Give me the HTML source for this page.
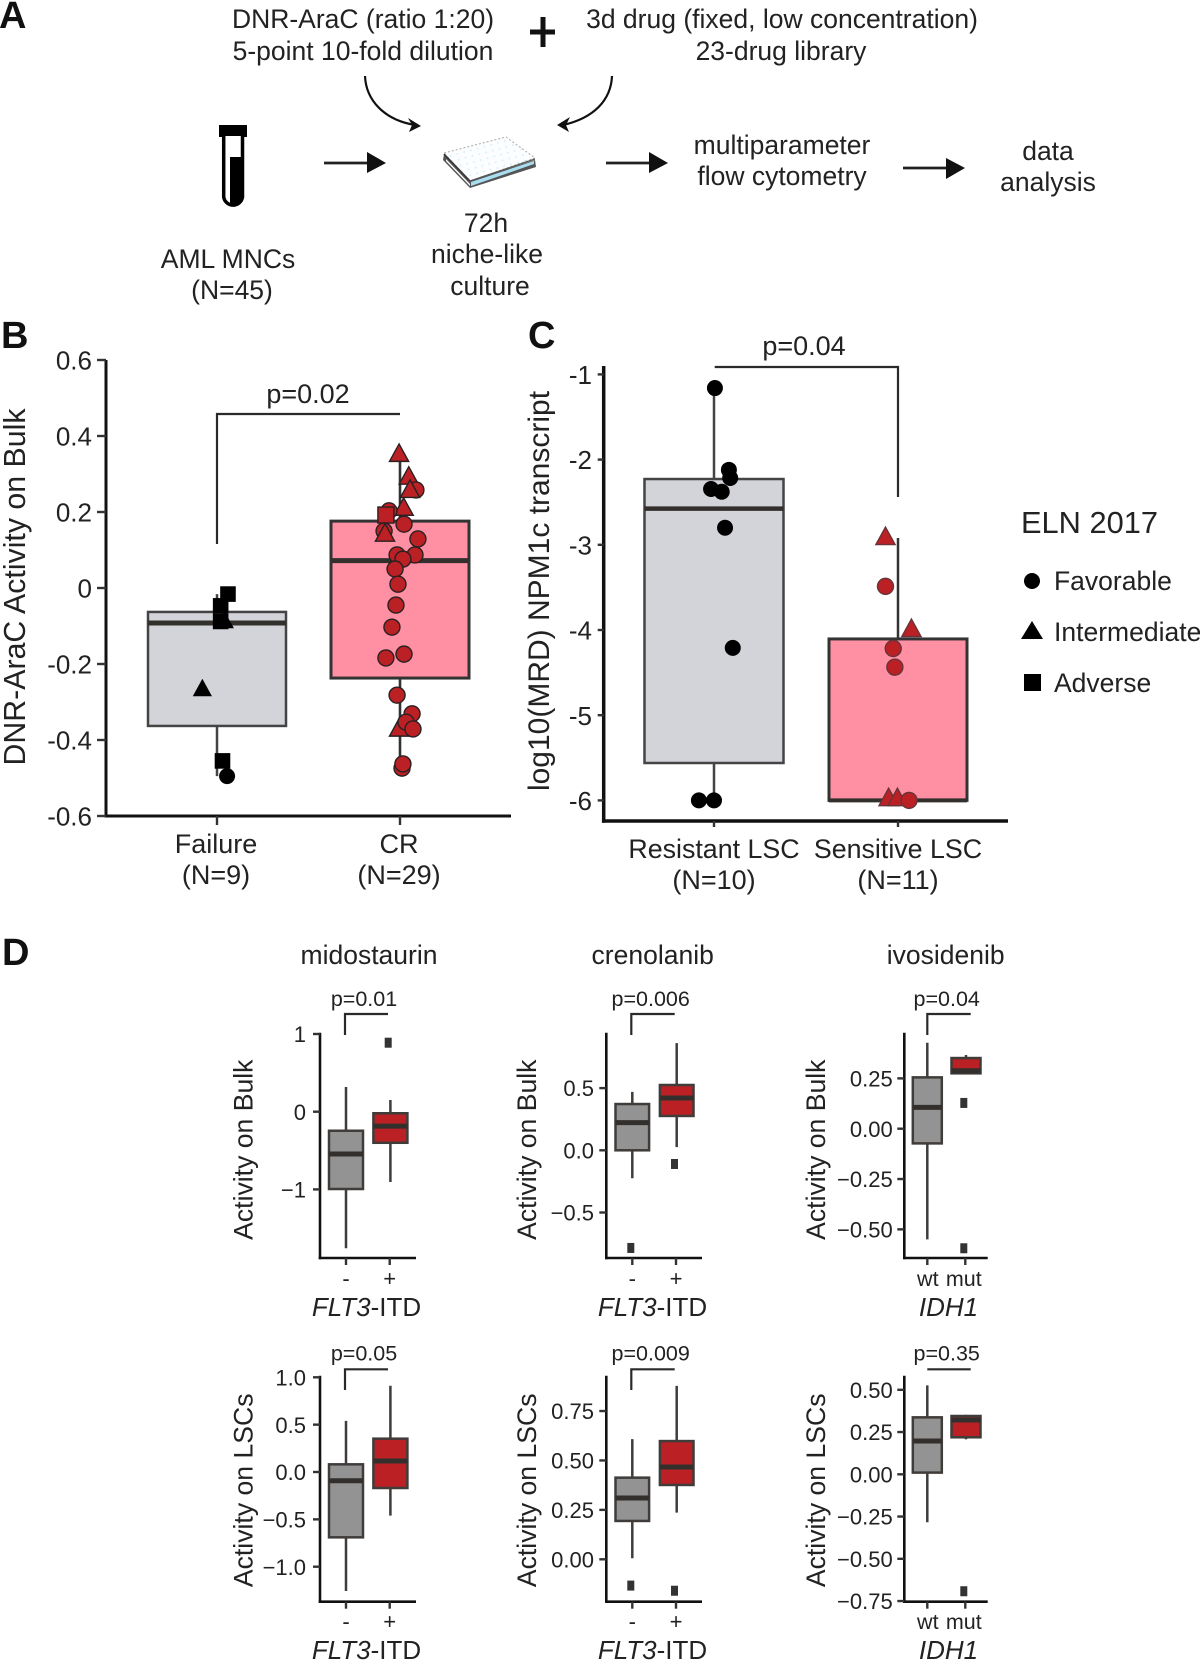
<!DOCTYPE html>
<html lang="en">
<head>
<meta charset="utf-8">
<title>DNR-AraC combination screening figure</title>
<style>
html,body{margin:0;padding:0;background:#fff;}
svg{display:block;font-family:"Liberation Sans",Arial,sans-serif;fill:#222;}
text{fill:#222;}
.panel{font-weight:bold;font-size:38px;fill:#111;}
.t26{font-size:26.5px;}
.t30{font-size:30.8px;}
.c{text-anchor:middle;}
</style>
</head>
<body>
<svg id="figure" xmlns="http://www.w3.org/2000/svg" width="1200" height="1661" viewBox="0 0 1200 1661">
<defs>
<pattern id="wells" width="7" height="6" patternUnits="userSpaceOnUse" patternTransform="rotate(-15)"><circle cx="3" cy="3" r="0.9" fill="#d3ecf6"/></pattern>
</defs>
<rect width="1200" height="1661" fill="#fff"/>

<g id="panel-a">
  <text class="panel" x="-1" y="28">A</text>
  <text class="t26 c" x="363" y="28">DNR-AraC (ratio 1:20)</text>
  <text class="t26 c" x="363" y="60">5-point 10-fold dilution</text>
  <g stroke="#111" stroke-width="5"><line x1="530" y1="32" x2="555" y2="32"/><line x1="543" y1="17" x2="543" y2="47"/></g>
  <text class="t26 c" x="782" y="28">3d drug (fixed, low concentration)</text>
  <text class="t26 c" x="781" y="60">23-drug library</text>

  <g>
    <path d="M365 76 C366 100 384 120 415 125" fill="none" stroke="#111" stroke-width="2.200"/>
    <path d="M421 126 L408 118 L412 125 L409 132 Z" fill="#111"/>
  </g>
  <g>
    <path d="M612 76 C611 100 594 118 563 125" fill="none" stroke="#111" stroke-width="2.200"/>
    <path d="M557 125 L570 117 L566 125 L569 132 Z" fill="#111"/>
  </g>

  <g>
    <rect x="219" y="125" width="28" height="12" fill="#000"/>
    <path d="M222 136 V197 A11 11 0 0 0 244 197 V136 Z" fill="#fff" stroke="none"/>
    <path d="M223.700 136 V197 A9.500 9.500 0 0 0 242.500 197 V136" fill="none" stroke="#000" stroke-width="3.500"/>
    <path d="M230 157 H242 V197 A8 8 0 0 1 230 203 Z" fill="#000"/>
  </g>

  <g><line x1="324" y1="163" x2="370" y2="163" stroke="#222" stroke-width="2.800"/><polygon points="367,152 386,163 367,173" fill="#111"/></g>
  <g><line x1="606" y1="163" x2="652" y2="163" stroke="#222" stroke-width="2.800"/><polygon points="649,152 668,163 649,173" fill="#111"/></g>
  <g><line x1="903" y1="168" x2="949" y2="168" stroke="#222" stroke-width="2.800"/><polygon points="946,158 965,168 946,179" fill="#111"/></g>

  <g>
    <polygon points="443,160 470,188 536,167 535,160 470,181 444,154" fill="#555"/>
    <polygon points="446,159 470,184 470,186 446,161" fill="#fff"/>
    <polygon points="471,182 534,161 534,164 471,186" fill="#a9ddf0"/>
    <polygon points="444,153 506,137 535,158 470,181" fill="#fbfdff"/>
    <polygon points="444,153 506,137 535,158 470,181" fill="url(#wells)" stroke="#aaa" stroke-width="1" stroke-dasharray="2 2"/>
    <line x1="444" y1="154" x2="470" y2="181" stroke="#333" stroke-width="1.500"/>
    <line x1="470" y1="181" x2="535" y2="159" stroke="#555" stroke-width="1.300"/>
  </g>

  <text class="t26 c" x="228" y="268">AML MNCs</text>
  <text class="t26 c" x="232" y="299">(N=45)</text>
  <text class="t26 c" x="486" y="232">72h</text>
  <text class="t26 c" x="487" y="263">niche-like</text>
  <text class="t26 c" x="490" y="295">culture</text>
  <text class="t26 c" x="782" y="154">multiparameter</text>
  <text class="t26 c" x="782" y="185">flow cytometry</text>
  <text class="t26 c" x="1048" y="160">data</text>
  <text class="t26 c" x="1048" y="191">analysis</text>
</g>

<text class="panel" x="1" y="348">B</text>
<text class="panel" x="528" y="348">C</text>
<text class="panel" x="2" y="965">D</text>

<g id="panel-b"></g>
<g id="panel-c"></g>

<g id="legend">
  <text class="t30" x="1021" y="533">ELN 2017</text>
  <circle cx="1032" cy="581" r="8" fill="#000"/>
  <text class="t26" x="1054" y="590">Favorable</text>
  <polygon points="1032,621 1043,639 1021,639" fill="#000"/>
  <text class="t26" x="1054" y="641">Intermediate</text>
  <rect x="1024" y="674" width="17" height="17" fill="#000"/>
  <text class="t26" x="1054" y="692">Adverse</text>
</g>

<g id="panel-d"></g>
</svg>

<script>
/* ---------- Panel B data ---------- */
const bCategories = ['Failure', 'CR'];
const bCounts = ['(N=9)', '(N=29)'];
const bTicks = [0.6, 0.4, 0.2, 0, -0.2, -0.4, -0.6];
const bTickLabels = ['0.6', '0.4', '0.2', '0', '-0.2', '-0.4', '-0.6'];
const bFailureBox = [-0.495, -0.363, -0.092, -0.063, -0.016];
const bCrBox = [-0.48, -0.237, 0.072, 0.176, 0.355];
const bFailureValues = [-0.016, -0.047, -0.084, -0.088, -0.263, -0.455, -0.495];
const bFailureJitter = [0.06, 0.02, 0.04, 0.02, -0.08, 0.03, 0.055];
const bFailureShapes = ['square', 'square', 'triangle', 'square', 'triangle', 'square', 'circle'];
const bCrValues = [0.355, 0.295, 0.258, 0.26, 0.213, 0.203, 0.192, 0.15, 0.145, 0.168, 0.129, 0.087, 0.087, 0.076, 0.05, 0.01, -0.045, -0.103, -0.184, -0.174, -0.282, -0.331, -0.368, -0.353, -0.371, -0.474, -0.463];
const bCrJitter = [-0.005, 0.048, 0.087, 0.055, 0.02, -0.06, -0.077, -0.087, -0.082, 0.022, 0.098, 0.082, -0.016, 0.016, -0.027, -0.011, -0.022, -0.044, -0.077, 0.022, -0.016, 0.066, -0.005, 0.033, 0.071, 0.011, 0.016];
const bCrShapes = ['triangle', 'triangle', 'circle', 'triangle', 'triangle', 'circle', 'square', 'circle', 'triangle', 'circle', 'circle', 'circle', 'circle', 'circle', 'circle', 'circle', 'circle', 'circle', 'circle', 'circle', 'circle', 'circle', 'triangle', 'circle', 'circle', 'circle', 'circle'];

/* ---------- Panel C data ---------- */
const cCategories = ['Resistant LSC', 'Sensitive LSC'];
const cCounts = ['(N=10)', '(N=11)'];
const cTicks = [-1, -2, -3, -4, -5, -6];
const cTickLabels = ['-1', '-2', '-3', '-4', '-5', '-6'];
const cResistantBox = [-6, -5.561, -2.576, -2.228, -1.16];
const cSensitiveBox = [-6, -6, -6, -4.105, -2.92];
const cResistantValues = [-1.16, -2.12, -2.216, -2.345, -2.377, -2.8, -4.21, -6, -6];
const cResistantJitter = [0.005, 0.081, 0.088, -0.016, 0.042, 0.06, 0.102, -0.082, 0];
const cSensitiveValues = [-2.9, -3.488, -3.98, -4.217, -4.436, -5.965, -5.965, -6];
const cSensitiveJitter = [-0.068, -0.068, 0.073, -0.026, -0.017, -0.051, -0.003, 0.06];
const cSensitiveShapes = ['triangle', 'circle', 'triangle', 'circle', 'circle', 'triangle', 'triangle', 'circle'];

/* ---------- Panel D data: box = [low whisker, q1, median, q3, high whisker] ---------- */
const flt3Categories = ['-', '+'];
const idh1Categories = ['wt', 'mut'];

const midoBulkTicks = [1, 0, -1];
const midoBulkTickLabels = ['1', '0', '\u22121'];
const midoBulkLowBox = [-1.757, -0.995, -0.545, -0.245, 0.318];
const midoBulkHighBox = [-0.905, -0.4, -0.185, -0.02, 0.15];
const midoBulkLowOutliers = [];
const midoBulkHighOutliers = [0.888];

const crenoBulkTicks = [0.5, 0, -0.5];
const crenoBulkTickLabels = ['0.5', '0.0', '\u22120.5'];
const crenoBulkLowBox = [-0.225, 0, 0.222, 0.372, 0.47];
const crenoBulkHighBox = [0.026, 0.276, 0.42, 0.525, 0.862];
const crenoBulkLowOutliers = [-0.785];
const crenoBulkHighOutliers = [-0.11];

const ivoBulkTicks = [0.25, 0, -0.25, -0.5];
const ivoBulkTickLabels = ['0.25', '0.00', '\u22120.25', '\u22120.50'];
const ivoBulkLowBox = [-0.55, -0.073, 0.106, 0.255, 0.427];
const ivoBulkHighBox = [0.275, 0.275, 0.288, 0.351, 0.366];
const ivoBulkLowOutliers = [];
const ivoBulkHighOutliers = [0.128, -0.594];

const midoLscTicks = [1, 0.5, 0, -0.5, -1];
const midoLscTickLabels = ['1.0', '0.5', '0.0', '\u22120.5', '\u22121.0'];
const midoLscLowBox = [-1.257, -0.69, -0.092, 0.081, 0.54];
const midoLscHighBox = [-0.461, -0.169, 0.116, 0.352, 0.911];
const midoLscLowOutliers = [];
const midoLscHighOutliers = [];

const crenoLscTicks = [0.75, 0.5, 0.25, 0];
const crenoLscTickLabels = ['0.75', '0.50', '0.25', '0.00'];
const crenoLscLowBox = [0.005, 0.194, 0.31, 0.413, 0.608];
const crenoLscHighBox = [0.236, 0.376, 0.467, 0.598, 0.877];
const crenoLscLowOutliers = [-0.133];
const crenoLscHighOutliers = [-0.159];

const ivoLscTicks = [0.5, 0.25, 0, -0.25, -0.5, -0.75];
const ivoLscTickLabels = ['0.50', '0.25', '0.00', '\u22120.25', '\u22120.50', '\u22120.75'];
const ivoLscLowBox = [-0.284, 0.01, 0.197, 0.337, 0.526];
const ivoLscHighBox = [0.207, 0.219, 0.321, 0.345, 0.352];
const ivoLscLowOutliers = [];
const ivoLscHighOutliers = [-0.692];

/* ---------- helpers ---------- */
const NS = 'http://www.w3.org/2000/svg';
function svgNode(parent, tag, attrs, text) {
  const n = document.createElementNS(NS, tag);
  for (const k in attrs) n.setAttribute(k, attrs[k]);
  if (text !== undefined) n.textContent = text;
  parent.appendChild(n);
  return n;
}
function linearY(zeroPx, pxPerUnit) { return v => zeroPx - v * pxPerUnit; }
function linearX(firstPx, stepPx) { return c => firstPx + c * stepPx; }

function drawMark(parent, shape, cx, cy, fill, stroke, size, name) {
  let m;
  if (shape === 'circle') {
    m = svgNode(parent, 'circle', {cx: cx, cy: cy, r: size});
  } else if (shape === 'square') {
    m = svgNode(parent, 'rect', {x: cx - size, y: cy - size, width: size * 2, height: size * 2});
  } else {
    const h = size * 1.15, w = size * 1.2;
    m = svgNode(parent, 'polygon', {points: cx + ',' + (cy - h) + ' ' + (cx + w) + ',' + (cy + h * 0.9) + ' ' + (cx - w) + ',' + (cy + h * 0.9)});
  }
  m.setAttribute('fill', fill);
  m.setAttribute('stroke', stroke);
  m.setAttribute('stroke-width', stroke === 'none' ? 0 : 1.4);
  
  
  return m;
}

function drawBox(parent, box, cx, halfW, y, st, name) {
  const w = svgNode(parent, 'line', {x1: cx, x2: cx, y1: y(box[4]), y2: y(box[0]), stroke: st.stroke, 'stroke-width': st.whisker});
  
  
  const r = svgNode(parent, 'rect', {x: cx - halfW, y: y(box[3]), width: halfW * 2, height: y(box[1]) - y(box[3]), fill: st.fill, stroke: st.stroke, 'stroke-width': st.border});
  
  
  const m = svgNode(parent, 'line', {x1: cx - halfW, x2: cx + halfW, y1: y(box[2]), y2: y(box[2]), stroke: '#332f2d', 'stroke-width': st.median});
  
  
}

function drawAxes(parent, a) {
  const yAxis = svgNode(parent, 'line', {x1: a.axisX, x2: a.axisX, y1: a.top, y2: a.bottom + a.width / 2, stroke: '#111', 'stroke-width': a.width});
  
  
  const xAxis = svgNode(parent, 'line', {x1: a.axisX - a.width / 2, x2: a.right, y1: a.bottom, y2: a.bottom, stroke: '#111', 'stroke-width': a.width});
  
  
  a.ticks.forEach((t, i) => {
    const py = a.y(t);
    const mark = svgNode(parent, 'line', {x1: a.axisX - a.tickLen, x2: a.axisX, y1: py, y2: py, stroke: '#333', 'stroke-width': 2.400});
    
    
    const label = svgNode(parent, 'text', {x: a.labelX, y: py + a.fontSize * 0.37, 'text-anchor': 'end', 'font-size': a.fontSize}, a.tickLabels[i]);
    
    
  });
  a.xPositions.forEach(px => {
    const mark = svgNode(parent, 'line', {x1: px, x2: px, y1: a.bottom, y2: a.bottom + a.tickLen, stroke: '#333', 'stroke-width': 2.400});
    
    
  });
}

function drawRotated(parent, txt, x, cy, size, name) {
  const t = svgNode(parent, 'text', {transform: 'translate(' + x + ',' + cy + ') rotate(-90)', 'text-anchor': 'middle', 'font-size': size}, txt);
  
  
}

function drawBracket(parent, d, name) {
  const b = svgNode(parent, 'path', {d: d, fill: 'none', stroke: '#2a2a2a', 'stroke-width': 2.200});
  
  
}

function drawLabel(parent, txt, x, y, size, name) {
  const t = svgNode(parent, 'text', {x: x, y: y, 'text-anchor': 'middle', 'font-size': size}, txt);
  
  
  return t;
}

/* ---------- Panel B ---------- */
(function () {
  const g = document.getElementById('panel-b');
  const y = linearY(588, 380);
  const x = linearX(217, 183);
  drawRotated(g, 'DNR-AraC Activity on Bulk', 25, 587, 30.3, 'y-axis-title');
  drawAxes(g, {axisX: 106, right: 511, top: 360, bottom: 816, width: 3, tickLen: 9, labelX: 92, fontSize: 26, y: y, ticks: bTicks, tickLabels: bTickLabels, xPositions: [x(0), x(1)]});
  drawBox(g, bFailureBox, x(0), 69, y, {fill: '#d3d4d9', stroke: '#444', whisker: 2.500, border: 2.500, median: 5}, 'failure');
  drawBox(g, bCrBox, x(1), 69, y, {fill: '#ff8fa3', stroke: '#333', whisker: 2.600, border: 3, median: 5}, 'cr');
  bFailureValues.forEach((v, i) => {
    const s = bFailureShapes[i];
    drawMark(g, s, x(0 + bFailureJitter[i]), y(v), '#000', 'none', s === 'square' ? 7.800 : 8, 'failure-point-' + s);
  });
  bCrValues.forEach((v, i) => {
    const s = bCrShapes[i];
    drawMark(g, s, x(1 + bCrJitter[i]), y(v), '#bb2025', '#2a2022', 8, 'cr-point-' + s);
  });
  bCategories.forEach((c, i) => {
    drawLabel(g, c, x(i) - 1, 853, 27, 'x-tick-label-' + c.toLowerCase());
    drawLabel(g, bCounts[i], x(i) - 1, 884, 27, 'sample-count-' + c.toLowerCase());
  });
  drawBracket(g, 'M217 544 V414 H400', 'significance-bracket');
  drawLabel(g, 'p=0.02', 308, 403, 27, 'p-value');
})();

/* ---------- Panel C ---------- */
(function () {
  const g = document.getElementById('panel-c');
  const y = linearY(289.2, 85.2);
  const x = linearX(714, 184);
  drawRotated(g, 'log10(MRD) NPM1c transcript', 549, 591, 30, 'y-axis-title');
  drawAxes(g, {axisX: 603.7, right: 1008, top: 366, bottom: 821, width: 3.500, tickLen: 6, labelX: 592, fontSize: 26, y: y, ticks: cTicks, tickLabels: cTickLabels, xPositions: [x(0), x(1)]});
  drawBox(g, cResistantBox, x(0), 69.500, y, {fill: '#d3d4d9', stroke: '#444', whisker: 2.500, border: 2.500, median: 4.500}, 'resistant');
  drawBox(g, cSensitiveBox, x(1), 69, y, {fill: '#ff8fa3', stroke: '#333', whisker: 2.500, border: 3, median: 4}, 'sensitive');
  cResistantValues.forEach((v, i) => {
    drawMark(g, 'circle', x(0 + cResistantJitter[i]), y(v), '#000', 'none', 8, 'resistant-point');
  });
  cSensitiveValues.forEach((v, i) => {
    const s = cSensitiveShapes[i];
    drawMark(g, s, x(1 + cSensitiveJitter[i]), y(v), '#bb2025', '#6a3338', 8, 'sensitive-point-' + s);
  });
  cCategories.forEach((c, i) => {
    drawLabel(g, c, x(i), 858, 26.8, 'x-tick-label-' + c.toLowerCase().replace(' ', '-'));
    drawLabel(g, cCounts[i], x(i), 889, 27, 'sample-count-' + c.toLowerCase().replace(' ', '-'));
  });
  drawBracket(g, 'M714.700 367 H898 V497', 'significance-bracket');
  drawLabel(g, 'p=0.04', 804, 355, 27, 'p-value');
})();

/* ---------- Panel D ---------- */
const titleRowLayout = {top: 1032.7, bottom: 1258, bracketTop: 1014, bracketBottom: 1035, pBaseline: 1006, catBaseline: 1286, geneBaseline: 1316, yTitleCy: 1149.7};
const lscRowLayout = {top: 1375.7, bottom: 1601.7, bracketTop: 1369.3, bracketBottom: 1390, pBaseline: 1360.7, catBaseline: 1629, geneBaseline: 1659, yTitleCy: 1490.3};
const midoColumn = {axisX: 320, right: 416, cats: [346, 389.7], halfW: 17, labelX: 306, titleX: 369, pX: 364, bracketL: 345, bracketR: 388, geneX: 366.5, yTitleX: 252.7};
const crenoColumn = {axisX: 606.3, right: 702, cats: [632.3, 676], halfW: 16.8, labelX: 594, titleX: 652.7, pX: 650.7, bracketL: 631.3, bracketR: 674.7, geneX: 652.5, yTitleX: 536};
const ivoColumn = {axisX: 904.3, right: 987.7, cats: [927.3, 965.3], halfW: 14.5, labelX: 892.7, titleX: 945.7, pX: 946.7, bracketL: 927.3, bracketR: 970.7, geneX: 948.5, yTitleX: 825};

function drawSmall(p) {
  const root = document.getElementById('panel-d');
  const g = svgNode(root, 'g', {});
  
  
  const col = p.col, row = p.row;
  const y = linearY(p.zeroPx, p.pxPerUnit);
  if (p.title) drawLabel(g, p.title, col.titleX, 964, 26.5, 'drug-title');
  drawLabel(g, p.pText, col.pX, row.pBaseline, 21.500, 'p-value');
  drawRotated(g, p.yTitle, col.yTitleX, row.yTitleCy, 26.6, 'y-axis-title');
  drawAxes(g, {axisX: col.axisX, right: col.right, top: row.top, bottom: row.bottom, width: 2.600, tickLen: 7, labelX: col.labelX, fontSize: 22, y: y, ticks: p.ticks, tickLabels: p.tickLabels, xPositions: col.cats});
  drawBracket(g, p.openBracket
    ? 'M' + col.bracketL + ' ' + row.bracketTop + ' H' + col.bracketR
    : 'M' + col.bracketL + ' ' + row.bracketBottom + ' V' + row.bracketTop + ' H' + col.bracketR, 'significance-bracket');
  drawBox(g, p.lowBox, col.cats[0], col.halfW, y, {fill: '#939393', stroke: '#3f3c3a', whisker: 2.500, border: 2.500, median: 5}, 'low-group');
  drawBox(g, p.highBox, col.cats[1] + 0.7, col.halfW, y, {fill: '#bb2025', stroke: '#3f3c3a', whisker: 2.500, border: 2.500, median: 5}, 'high-group');
  [p.lowOutliers, p.highOutliers].forEach((list, i) => {
    list.forEach(v => {
      const o = svgNode(g, 'rect', {x: col.cats[i] - 5, y: y(v) - 5, width: 7, height: 10, fill: '#333'});
      
      
    });
  });
  p.categories.forEach((c, i) => {
    const t = drawLabel(g, c, col.cats[i] + (p.categories === idh1Categories ? (i ? -1.500 : 0.500) : 0), row.catBaseline, 21, 'x-tick-label');
    t.setAttribute('font-size', p.categories === idh1Categories ? 21.5 : 22);
  });
  const gene = svgNode(g, 'text', {x: col.geneX, y: row.geneBaseline, 'text-anchor': 'middle', 'font-size': 26});
  
  
  const it = svgNode(gene, 'tspan', {'font-style': 'italic'}, p.gene);
  
  
  if (p.geneSuffix) gene.appendChild(document.createTextNode(p.geneSuffix));
}

drawSmall({name: 'midostaurin-bulk-chart', col: midoColumn, row: titleRowLayout, zeroPx: 1111.7, pxPerUnit: 77.7, title: 'midostaurin', pText: 'p=0.01', yTitle: 'Activity on Bulk', ticks: midoBulkTicks, tickLabels: midoBulkTickLabels, lowBox: midoBulkLowBox, highBox: midoBulkHighBox, lowOutliers: midoBulkLowOutliers, highOutliers: midoBulkHighOutliers, categories: flt3Categories, gene: 'FLT3', geneSuffix: '-ITD'});
drawSmall({name: 'crenolanib-bulk-chart', col: crenoColumn, row: titleRowLayout, zeroPx: 1150.3, pxPerUnit: 124.4, title: 'crenolanib', pText: 'p=0.006', yTitle: 'Activity on Bulk', ticks: crenoBulkTicks, tickLabels: crenoBulkTickLabels, lowBox: crenoBulkLowBox, highBox: crenoBulkHighBox, lowOutliers: crenoBulkLowOutliers, highOutliers: crenoBulkHighOutliers, categories: flt3Categories, gene: 'FLT3', geneSuffix: '-ITD'});
drawSmall({name: 'ivosidenib-bulk-chart', col: ivoColumn, row: titleRowLayout, zeroPx: 1128.7, pxPerUnit: 201.3, title: 'ivosidenib', pText: 'p=0.04', yTitle: 'Activity on Bulk', ticks: ivoBulkTicks, tickLabels: ivoBulkTickLabels, lowBox: ivoBulkLowBox, highBox: ivoBulkHighBox, lowOutliers: ivoBulkLowOutliers, highOutliers: ivoBulkHighOutliers, categories: idh1Categories, gene: 'IDH1', geneSuffix: ''});
drawSmall({name: 'midostaurin-lsc-chart', col: midoColumn, row: lscRowLayout, zeroPx: 1472, pxPerUnit: 94.7, title: '', pText: 'p=0.05', yTitle: 'Activity on LSCs', ticks: midoLscTicks, tickLabels: midoLscTickLabels, lowBox: midoLscLowBox, highBox: midoLscHighBox, lowOutliers: midoLscLowOutliers, highOutliers: midoLscHighOutliers, categories: flt3Categories, gene: 'FLT3', geneSuffix: '-ITD'});
drawSmall({name: 'crenolanib-lsc-chart', col: crenoColumn, row: lscRowLayout, zeroPx: 1559.3, pxPerUnit: 197.7, title: '', pText: 'p=0.009', yTitle: 'Activity on LSCs', ticks: crenoLscTicks, tickLabels: crenoLscTickLabels, lowBox: crenoLscLowBox, highBox: crenoLscHighBox, lowOutliers: crenoLscLowOutliers, highOutliers: crenoLscHighOutliers, categories: flt3Categories, gene: 'FLT3', geneSuffix: '-ITD'});
drawSmall({name: 'ivosidenib-lsc-chart', col: ivoColumn, row: lscRowLayout, zeroPx: 1474.3, pxPerUnit: 169, title: '', pText: 'p=0.35', yTitle: 'Activity on LSCs', openBracket: true, ticks: ivoLscTicks, tickLabels: ivoLscTickLabels, lowBox: ivoLscLowBox, highBox: ivoLscHighBox, lowOutliers: ivoLscLowOutliers, highOutliers: ivoLscHighOutliers, categories: idh1Categories, gene: 'IDH1', geneSuffix: ''});
</script>
</body>
</html>
